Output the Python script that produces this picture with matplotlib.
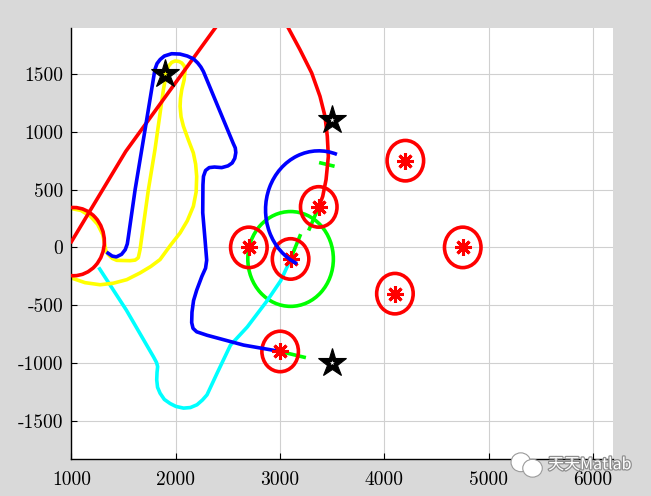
"""Path-planning result: obstacle circles, UAV tracks and target stars."""
import matplotlib

matplotlib.use("Agg")

import matplotlib.pyplot as plt  # noqa: E402
import matplotlib.patheffects as pe  # noqa: E402
from matplotlib.patches import Arc, Circle, Ellipse  # noqa: E402

# --- data ------------------------------------------------------------------------
threat_x = [2700, 3100, 3370, 4200, 4750, 4100, 3000]
threat_y = [0, -100, 350, 750, 0, -400, -900]
threat_r = 175
big_threat = (1020, 50, 295)
radar = (3100, -100, 410)

target_x = [1900, 3500, 3500]
target_y = [1500, 1100, -1000]
target_core = ["yellow", "white", "white"]

blue_x = [1350, 1390, 1430, 1480, 1515, 1535, 1545, 1610, 1705, 1800, 1820, 1850, 1890,
          1960, 2040, 2110, 2170, 2210, 2240, 2265, 2550, 2570, 2575, 2565, 2540, 2500,
          2440, 2370, 2320, 2285, 2265, 2260, 2258, 2280, 2296, 2285, 2250, 2200, 2170,
          2155, 2152, 2165, 2200, 2300, 2650, 3000]
blue_y = [-50, -75, -82, -60, -20, 30, 90, 500, 1017, 1540, 1590, 1625, 1655,
          1675, 1672, 1655, 1630, 1595, 1560, 1520, 900, 860, 820, 770, 730, 705,
          690, 695, 690, 665, 614, 540, 300, 67, -110, -180, -250, -370, -460,
          -560, -650, -700, -730, -760, -845, -900]

yellow_x = [1000, 1090, 1180, 1250, 1300, 1320, 1330, 1350, 1390, 1434, 1561, 1610, 1640,
            1650, 1657, 1737, 1800, 1881, 1905, 1929, 1960, 1993, 2030, 2057, 2080, 2089,
            2080, 2057, 2045, 2041, 2050, 2073, 2120, 2168, 2190, 2200, 2195, 2168, 2110,
            2041, 1950, 1849, 1760, 1657, 1530, 1400, 1274, 1130, 1000]
yellow_y = [335, 320, 270, 200, 110, 20, -30, -60, -95, -112, -115, -110, -90,
            -50, -20, 499, 845, 1364, 1480, 1566, 1600, 1612, 1608, 1595, 1570, 1537,
            1450, 1364, 1290, 1220, 1130, 1047, 930, 817, 720, 614, 480, 355, 230,
            125, 20, -105, -165, -221, -279, -310, -323, -305, -265]

cyan_x = [1270, 1527, 1785, 1815, 1826, 1820, 1817, 1825, 1849, 1890, 1945, 2000, 2074,
          2140, 2203, 2255, 2299, 2395, 2524, 2685, 2878, 3006, 3087, 3100]
cyan_y = [-186, -544, -945, -995, -1031, -1080, -1146, -1210, -1261, -1315, -1350, -1375, -1390,
          -1385, -1361, -1320, -1275, -1089, -845, -688, -458, -287, -129, -100]

red_line_x = [1000, 1520, 2420]
red_line_y = [50, 830, 1950]

red_curve_x = [3078, 3190, 3302, 3382, 3430, 3452, 3462, 3440, 3408, 3370]
red_curve_y = [1898, 1710, 1509, 1306, 1133, 960, 787, 586, 441, 350]

turn_arc = (3370, 325, 510, 70, 246)  # centre x, centre y, radius, theta1, theta2

green_segs = [
    ([3100, 3190], [-100, 100]),
    ([3280, 3370], [160, 350]),
    ([3390, 3505], [730, 705]),
    ([3000, 3230], [-900, -950]),
]

xticks = [1000, 2000, 3000, 4000, 5000, 6000]
yticks = [-1500, -1000, -500, 0, 500, 1000, 1500]

LW = 2.6
fig = plt.figure(figsize=(6.51, 4.96), dpi=100, facecolor="#d9d9d9")
ax = fig.add_axes([0.1098, 0.0746, 0.8318, 0.8684])

ax.add_patch(Circle(radar[:2], radar[2], fill=False, ec="#00ff00", lw=LW, zorder=2))
for cx, cy in zip(threat_x, threat_y):
    ax.add_patch(Circle((cx, cy), threat_r, fill=False, ec="red", lw=LW, zorder=3))

ax.plot(cyan_x, cyan_y, color="cyan", lw=LW, zorder=2, solid_joinstyle="round")
ax.plot(yellow_x, yellow_y, color="yellow", lw=LW, zorder=2, solid_joinstyle="round")
ax.add_patch(Circle(big_threat[:2], big_threat[2], fill=False, ec="red", lw=LW, zorder=3))
ax.plot(red_line_x, red_line_y, color="red", lw=LW, zorder=3)
ax.plot(red_curve_x, red_curve_y, color="red", lw=LW, zorder=3, solid_joinstyle="round")
for sx, sy in green_segs:
    ax.plot(sx, sy, color="#00ff00", lw=LW, zorder=2)
ax.plot(blue_x, blue_y, color="blue", lw=LW, zorder=3, solid_joinstyle="round")

ax.plot(threat_x, threat_y, ls="none", marker=(8, 2, 0), ms=12, mew=2.2,
        color="red", zorder=4)
cx, cy, r, t1, t2 = turn_arc
ax.add_patch(Arc((cx, cy), 2 * r, 2 * r, theta1=t1, theta2=t2, ec="blue", lw=LW, zorder=5))

# MATLAB's heavy-edged pentagram: a solid black star with a tiny see-through core
ax.plot(target_x, target_y, ls="none", marker="*", ms=21, mfc="black", mec="black",
        mew=0.8, zorder=6)
ax.scatter(target_x, target_y, marker="*", s=14, c=target_core, lw=0, zorder=7)

ax.set_xlim(1000, 6190)
ax.set_ylim(-1830, 1895)
ax.set_xticks(xticks)
ax.set_yticks(yticks)
ax.set_xticklabels([str(v) for v in xticks], fontfamily="cmr10", fontsize=14)
ax.set_yticklabels([str(v) for v in yticks], fontfamily="cmr10", fontsize=14)
ax.tick_params(direction="in", length=4, width=0.8, color="black")
ax.tick_params(axis="x", pad=9)
ax.tick_params(axis="y", pad=6)
ax.grid(True, color="#d0d0d0", lw=0.8)
ax.set_axisbelow(True)
for side in ("top", "right"):
    ax.spines[side].set_visible(False)
for side in ("left", "bottom"):
    ax.spines[side].set_linewidth(1.0)

# watermark in the lower right corner (it sits over the 6000 label in the original too)
fig.patches.append(Ellipse((0.800, 0.068), 0.030, 0.038, transform=fig.transFigure,
                           fc="white", ec="#9a9a9a", lw=0.8))
fig.patches.append(Ellipse((0.818, 0.056), 0.030, 0.036, transform=fig.transFigure,
                           fc="white", ec="#9a9a9a", lw=0.8))
fig.text(0.842, 0.063, "天天Matlab", fontsize=11.5, color="white", va="center",
         family=["Noto Sans CJK SC", "DejaVu Sans"],
         path_effects=[pe.withStroke(linewidth=1.8, foreground="#8f8f8f")])

fig.savefig("out.png", dpi=100, facecolor=fig.get_facecolor())
